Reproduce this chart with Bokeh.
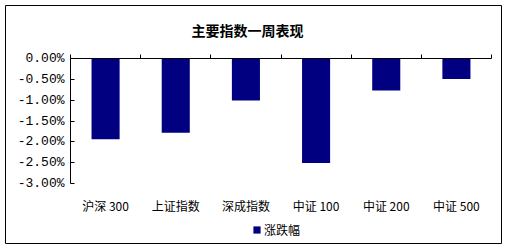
from bokeh.plotting import figure
from bokeh.models import (Range1d, FixedTicker, NumeralTickFormatter, LinearAxis,
                          Label, Legend, LegendItem, ColumnDataSource)
from bokeh.core.properties import value
from bokeh.embed import file_html
from bokeh.resources import INLINE

# ---- data ----
categories = ["沪深 300", "上证指数", "深成指数", "中证 100", "中证 200", "中证 500"]
changes = [-0.0194, -0.0178, -0.0101, -0.0251, -0.0077, -0.0049]
y_ticks = [-0.03, -0.025, -0.02, -0.015, -0.01, -0.005, 0.0]
title_text = "主要指数一周表现"
series_name = "涨跌幅"

CJK = "Noto Sans CJK SC"
n = len(categories)
y_min, y_max = -0.03, 0.0

positions = [i + 0.5 for i in range(n)]
source = ColumnDataSource(data=dict(x=positions, y=changes, name=categories))

# frame = outer bordered box; value area 0..n / -3%..0 sits inside it
px_x = 421.0 / n          # pixels per category
px_y = 125.0 / (y_max - y_min)  # pixels per unit of value
p = figure(width=507, height=251, output_backend="svg", toolbar_location=None,
           x_range=Range1d(-65 / px_x, n + 10 / px_x),
           y_range=Range1d(y_min - 60 / px_y, y_max + 53 / px_y),
           min_border_left=5, min_border_right=6, min_border_top=5, min_border_bottom=8,
           x_axis_location=None, y_axis_location=None)
p.outline_line_color = "black"
p.outline_line_width = 1
p.xgrid.visible = False
p.ygrid.visible = False
p.background_fill_color = "white"
p.border_fill_color = "white"

r = p.vbar(x="x", top=0, bottom="y", width=0.4, source=source,
           fill_color="#000080", line_color=None)

# left value axis, crossing at the first category boundary
yax = LinearAxis(ticker=FixedTicker(ticks=y_ticks),
                 formatter=NumeralTickFormatter(format="0.00%"),
                 fixed_location=0, bounds=(y_min, y_max))
yax.major_tick_in = 4
yax.major_tick_out = 0
yax.minor_tick_line_color = None
yax.major_label_standoff = 6
yax.major_label_text_font = "Liberation Mono"
yax.major_label_text_font_size = "13px"
yax.major_label_text_color = "black"
yax.axis_line_color = "black"
yax.major_tick_line_color = "black"
p.add_layout(yax, "left")

# zero line with category boundary ticks pointing up
tax = LinearAxis(ticker=FixedTicker(ticks=list(range(n + 1))),
                 major_label_overrides={i: "" for i in range(n + 1)},
                 fixed_location=0, bounds=(0, n))
tax.major_tick_out = 4
tax.major_tick_in = 0
tax.minor_tick_line_color = None
tax.axis_line_color = "black"
tax.major_tick_line_color = "black"
tax.major_label_text_font_size = "1px"
tax.major_label_standoff = 0
p.add_layout(tax, "above")

# category labels below the value area
p.text(x=positions, y=[y_min - 22 / px_y] * n, text=categories,
       text_font=value(CJK), text_font_size="12px", text_color="black",
       text_align="center", text_baseline="middle")

# title
p.add_layout(Label(x=242, y=214, x_units="screen", y_units="screen", text=title_text,
                   text_font=CJK, text_font_size="14px", text_font_style="bold",
                   text_align="center", text_baseline="middle", text_color="black"))

# legend
legend = Legend(items=[LegendItem(label=series_name, renderers=[r])],
                location=(247, 5), orientation="horizontal",
                glyph_width=9, glyph_height=9, label_height=9, label_width=10,
                label_standoff=3, padding=0, margin=0, spacing=0,
                border_line_color=None, background_fill_alpha=0,
                label_text_font=CJK, label_text_font_size="12px",
                label_text_color="black")
p.add_layout(legend, "center")

open("out.html", "w").write(file_html(p, INLINE))
